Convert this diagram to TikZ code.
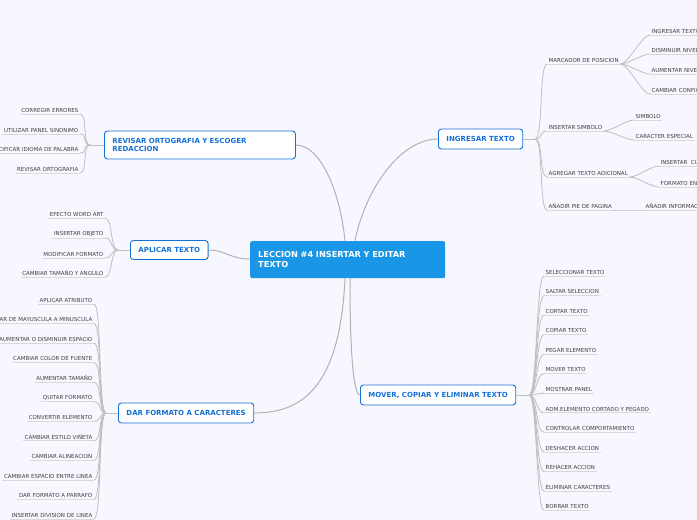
\documentclass[tikz,border=0pt]{standalone}
\usepackage{fontspec}
\setmainfont{DejaVu Sans}
\definecolor{cbox}{HTML}{1A96E6}
\definecolor{tblue}{HTML}{1470D6}
\begin{document}
\begin{tikzpicture}[x=1pt,y=-1pt,
  leaf/.style={inner sep=1.5pt,font=\fontsize{5.5}{6}\selectfont,text=black!75},
  ul/.style={draw=black!15,line width=0.9pt},
  con/.style={draw=black!25,line width=0.8pt},
  mainc/.style={draw=black!30,line width=1pt},
  topic/.style={draw=tblue,line width=0.9pt,rounded corners=3pt,fill=white,text=tblue,font=\bfseries\fontsize{7}{8.5}\selectfont,inner xsep=8pt,align=left,anchor=west}]
\fill[blue!3] (0,0) rectangle (697,520);
\clip (0,0) rectangle (697,520);
\node[fill=cbox,rounded corners=2pt,text=white,font=\bfseries\fontsize{8.2}{10}\selectfont,align=left,minimum width=195pt,minimum height=37pt,text width=179pt,anchor=north west] (c) at (250,241) {LECCION \#4 INSERTAR Y EDITAR\\TEXTO};
\node[topic,minimum height=20pt] (ing) at (438,139) {INGRESAR TEXTO};
\node[topic,minimum height=28pt,text width=175pt] (rev) at (104,145) {REVISAR ORTOGRAFIA Y ESCOGER\\REDACCION};
\node[topic,minimum height=19pt] (apl) at (130,250) {APLICAR TEXTO};
\node[topic,minimum height=20pt] (dar) at (118,413) {DAR FORMATO A CARACTERES};
\node[topic,minimum height=20pt] (mov) at (360,395) {MOVER, COPIAR Y ELIMINAR TEXTO};
\draw[mainc] (355,241) .. controls (365,190) and (400,139) .. (ing.west);
\draw[mainc] (345,241) .. controls (340,190) and (320,145) .. (rev.east);
\draw[mainc] (c.west |- 0,259) .. controls (230,259) and (225,250) .. (apl.east);
\draw[mainc] (345,278) .. controls (340,390) and (300,413) .. (dar.east);
\draw[mainc] (350,278) .. controls (350,370) and (355,395) .. (mov.west);
\newcommand\rleaf[5]{\node[leaf,anchor=south west] (#1) at (#3,#4+4) {#5};
  \draw[ul] (#1.south west) -- (#1.south east);
  \draw[con] (#2) .. controls +(8,0) and +(-8,0) .. (#1.south west);}
\newcommand\lleaf[5]{\node[leaf,anchor=south east] (#1) at (#3,#4+4) {#5};
  \draw[ul] (#1.south west) -- (#1.south east);
  \draw[con] (#2) .. controls +(-8,0) and +(8,0) .. (#1.south east);}
% INGRESAR
\coordinate (bi) at ([xshift=12pt]ing.east); \draw[con] (ing.east) -- (bi);
\rleaf{i1}{bi}{547}{60}{MARCADOR DE POSICION}
\rleaf{i2}{bi}{547}{127}{INSERTAR SIMBOLO}
\rleaf{i3}{bi}{547}{173}{AGREGAR TEXTO ADICIONAL}
\rleaf{i4}{bi}{547}{206}{AÑADIR PIE DE PAGINA}
\rleaf{i11}{i1.south east}{650}{31}{INGRESAR TEXTO}
\rleaf{i12}{i1.south east}{650}{50}{DISMINUIR NIVEL}
\rleaf{i13}{i1.south east}{650}{70}{AUMENTAR NIVEL}
\rleaf{i14}{i1.south east}{650}{90}{CAMBIAR CONFIGURACION}
\rleaf{i21}{i2.south east}{634}{116}{SIMBOLO}
\rleaf{i22}{i2.south east}{634}{136}{CARACTER ESPECIAL}
\rleaf{i31}{i3.south east}{659}{162}{INSERTAR\ \ CUADRO}
\rleaf{i32}{i3.south east}{659}{183}{FORMATO EN COLUMNAS}
\rleaf{i41}{i4.south east}{644}{206}{AÑADIR INFORMACION}
% REVISAR
\coordinate (br) at ([xshift=-14pt]rev.west); \draw[con] (rev.west) -- (br);
\lleaf{r1}{br}{80}{110}{CORREGIR ERRORES}
\lleaf{r2}{br}{80}{130}{UTILIZAR PANEL SINONIMO}
\lleaf{r3}{br}{80}{149}{ESPECIFICAR IDIOMA DE PALABRA}
\lleaf{r4}{br}{80}{169}{REVISAR ORTOGRAFIA}
% APLICAR
\coordinate (ba) at ([xshift=-12pt]apl.west); \draw[con] (apl.west) -- (ba);
\lleaf{a1}{ba}{105}{214}{EFECTO WORD ART}
\lleaf{a2}{ba}{105}{234}{INSERTAR OBJETO}
\lleaf{a3}{ba}{105}{254}{MODIFICAR FORMATO}
\lleaf{a4}{ba}{105}{273}{CAMBIAR TAMAÑO Y ANGULO}
% DAR
\coordinate (bd) at ([xshift=-12pt]dar.west); \draw[con] (dar.west) -- (bd);
\foreach \t [count=\i, evaluate=\i as \yy using 300+19.55*(\i-1)] in {APLICAR ATRIBUTO,CAMBIAR DE MAYUSCULA A MINUSCULA,AUMENTAR O DISMINUIR ESPACIO,CAMBIAR COLOR DE FUENTE,AUMENTAR TAMAÑO,QUITAR FORMATO,CONVERTIR ELEMENTO,CAMBIAR ESTILO VIÑETA,CAMBIAR ALINEACION,CAMBIAR ESPACIO ENTRE LINEA,DAR FORMATO A PARRAFO,INSERTAR DIVISION DE LINEA}
  {\lleaf{d\i}{bd}{94}{\yy}{\t}}
% MOVER
\coordinate (bm) at ([xshift=13pt]mov.east); \draw[con] (mov.east) -- (bm);
\foreach \t [count=\i, evaluate=\i as \yy using 272+19.55*(\i-1)] in {SELECCIONAR TEXTO,SALTAR SELECCION,CORTAR TEXTO,COPIAR TEXTO,PEGAR ELEMENTO,MOVER TEXTO,MOSTRAR PANEL,ADM.ELEMENTO CORTADO Y PEGADO,CONTROLAR COMPORTAMIENTO,DESHACER ACCION,REHACER ACCION,ELIMINAR CARACTERES,BORRAR TEXTO}
  {\rleaf{m\i}{bm}{544}{\yy}{\t}}
\end{tikzpicture}
\end{document}
